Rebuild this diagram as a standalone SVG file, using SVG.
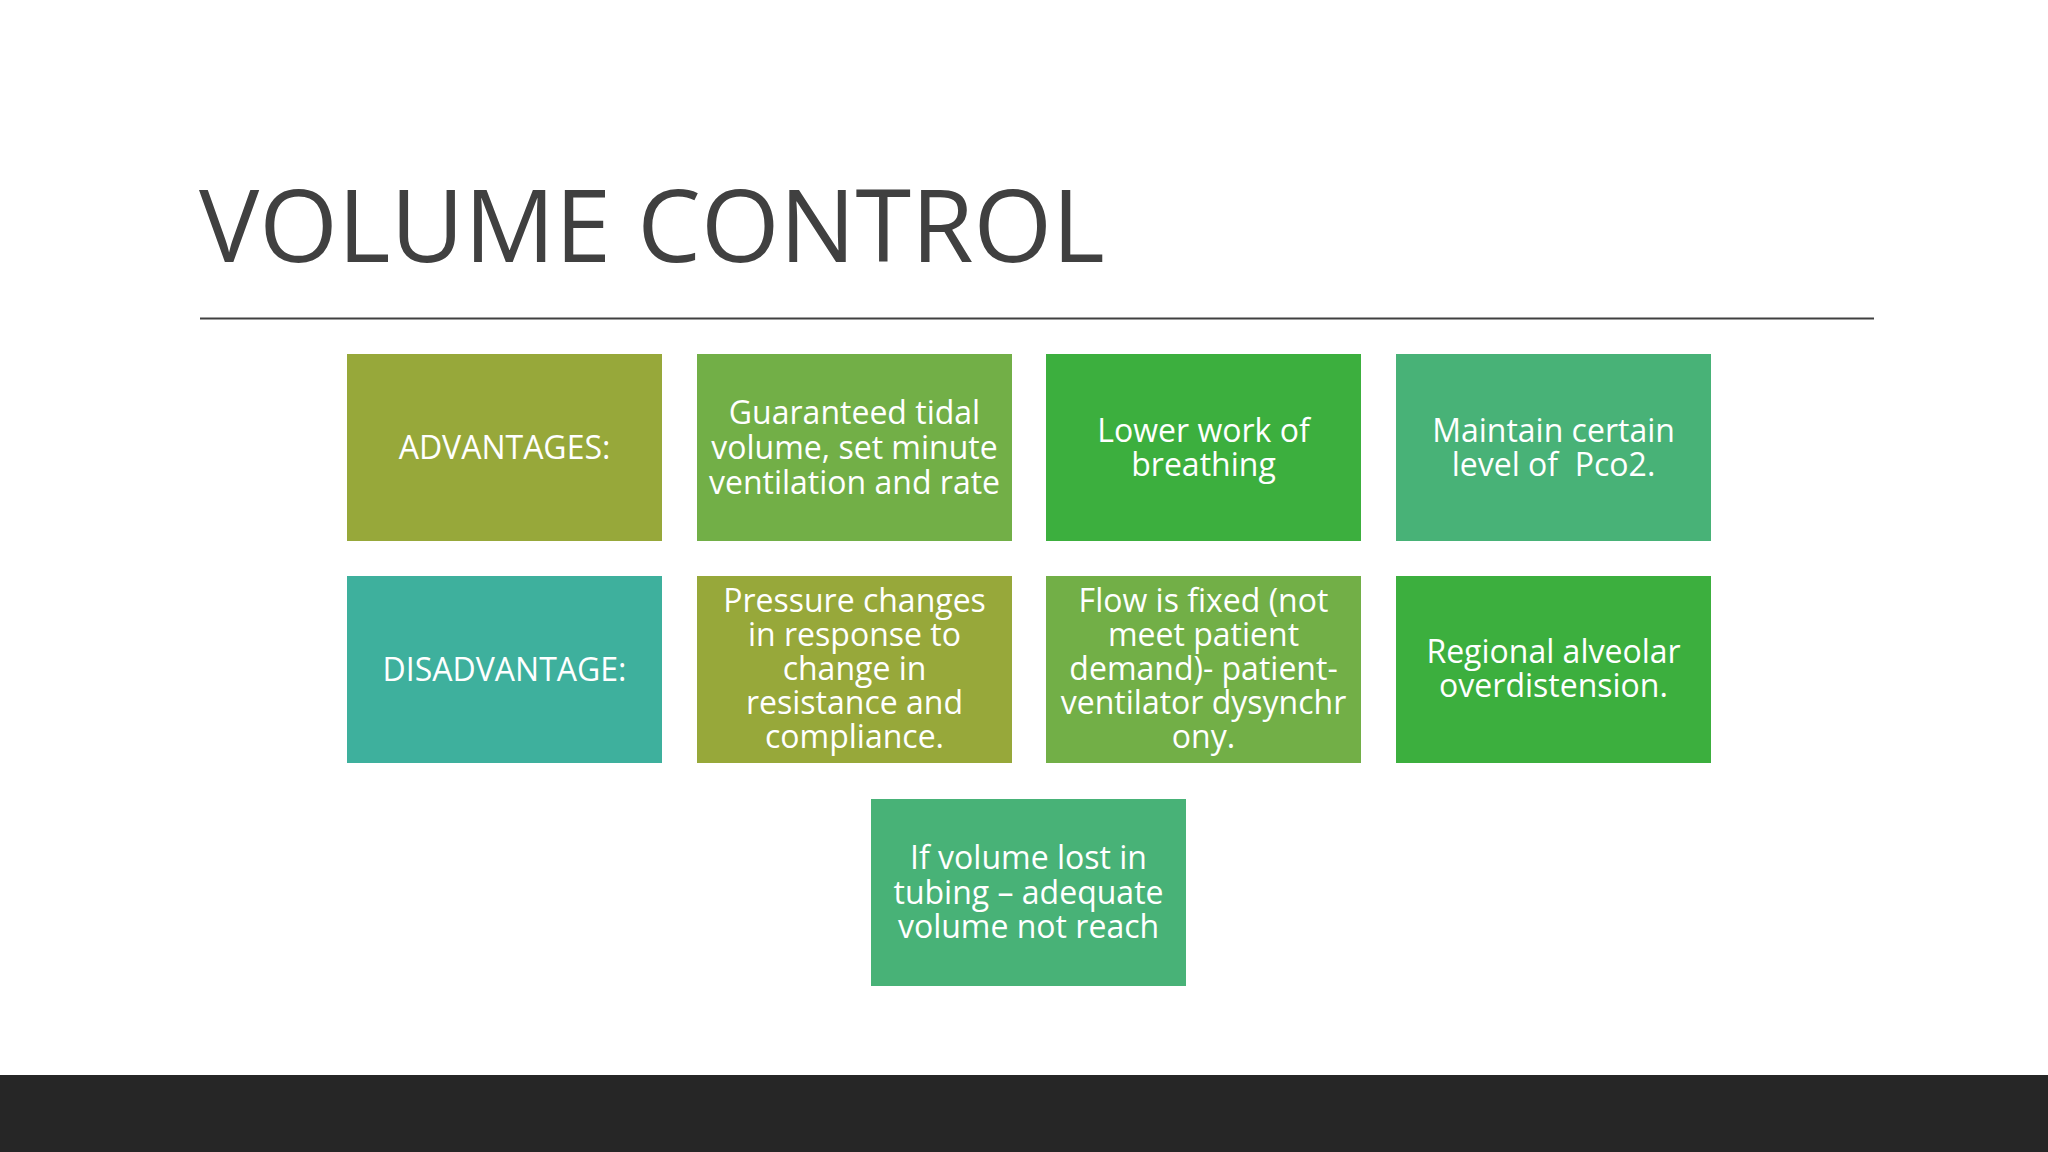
<svg xmlns="http://www.w3.org/2000/svg" width="2048" height="1152" viewBox="0 0 2048 1152">
<style>
.box{stroke:none}
.t{font-family:"Open Sans","Noto Sans",sans-serif;font-size:32px;fill:#ffffff;text-anchor:middle}
.title{font-family:"Open Sans","Noto Sans",sans-serif;font-size:101px;fill:#404040}
.c1{fill:#97A83A}.c2{fill:#72AF47}.c3{fill:#3CAF3E}.c4{fill:#48B277}.c5{fill:#3EB09D}
</style>
<rect x="0" y="0" width="2048" height="1152" fill="#ffffff"/>
<text class="title" x="199" y="262">VOLUME CONTROL</text>
<line x1="200" y1="318.5" x2="1874" y2="318.5" stroke="#404040" stroke-width="2"/>
<g id="connectors"></g>
<g id="advantages"><rect class="box c1" x="347" y="354" width="315" height="187"/><text class="t" x="504.5" y="459">ADVANTAGES:</text></g>
<g id="guaranteed"><rect class="box c2" x="697" y="354" width="315" height="187"/><text class="t" x="854.5" y="424">Guaranteed tidal</text><text class="t" x="854.5" y="459">volume, set minute</text><text class="t" x="854.5" y="494">ventilation and rate</text></g>
<g id="lowerwork"><rect class="box c3" x="1046" y="354" width="315" height="187"/><text class="t" x="1203.5" y="442">Lower work of</text><text class="t" x="1203.5" y="476">breathing</text></g>
<g id="maintain"><rect class="box c4" x="1396" y="354" width="315" height="187"/><text class="t" x="1553.5" y="442">Maintain certain</text><text class="t" x="1553.5" y="476" xml:space="preserve">level of  Pco2.</text></g>
<g id="disadvantage"><rect class="box c5" x="347" y="576" width="315" height="187"/><text class="t" x="504.5" y="681">DISADVANTAGE:</text></g>
<g id="pressure"><rect class="box c1" x="697" y="576" width="315" height="187"/><text class="t" x="854.5" y="612">Pressure changes</text><text class="t" x="854.5" y="646">in response to</text><text class="t" x="854.5" y="680">change in</text><text class="t" x="854.5" y="714">resistance and</text><text class="t" x="854.5" y="748">compliance.</text></g>
<g id="flow"><rect class="box c2" x="1046" y="576" width="315" height="187"/><text class="t" x="1203.5" y="612">Flow is fixed (not</text><text class="t" x="1203.5" y="646">meet patient</text><text class="t" x="1203.5" y="680">demand)- patient-</text><text class="t" x="1203.5" y="714">ventilator dysynchr</text><text class="t" x="1203.5" y="748">ony.</text></g>
<g id="regional"><rect class="box c3" x="1396" y="576" width="315" height="187"/><text class="t" x="1553.5" y="663">Regional alveolar</text><text class="t" x="1553.5" y="697">overdistension.</text></g>
<g id="tubing"><rect class="box c4" x="871" y="799" width="315" height="187"/><text class="t" x="1028.5" y="869">If volume lost in</text><text class="t" x="1028.5" y="904">tubing – adequate</text><text class="t" x="1028.5" y="938">volume not reach</text></g>
<rect x="0" y="1075" width="2048" height="77" fill="#262626"/>
</svg>
